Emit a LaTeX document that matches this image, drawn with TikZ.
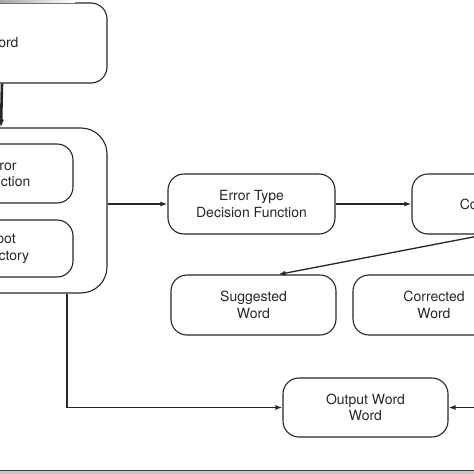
\documentclass[tikz,border=0pt]{standalone}
\usepackage{fontspec}
\setmainfont{TeX Gyre Heros}
\usetikzlibrary{arrows.meta,calc}
\definecolor{ink}{HTML}{262626}
\tikzset{
  box/.style={draw=ink, line width=1.1pt, rounded corners=16pt, inner sep=0pt,
    align=center, text=ink, font=\fontsize{14}{16.7}\selectfont},
  conn/.style={draw=ink, line width=1.3pt, -{Latex[length=7pt,width=5pt]}},
}
\begin{document}
\begin{tikzpicture}[x=1pt,y=-1pt]
\useasboundingbox (0,0) rectangle (474,474);
\begin{scope}
\clip (0,0) rectangle (474,474);
\node[box, minimum width=210pt, minimum height=80pt] (top) at (2,43) {Word};
\node[box, rounded corners=26pt, minimum width=212pt, minimum height=165pt] (cont) at (1,210.5) {};
\node[box, minimum width=144pt, minimum height=59pt] (det) at (1,173.5) {Error\\Detection};
\node[box, minimum width=144pt, minimum height=57pt] (root) at (1,248.5) {Root\\Directory};
\node[box, minimum width=167pt, minimum height=60pt] (err) at (251.5,204) {Error Type\\Decision Function};
\node[box, minimum width=160pt, minimum height=60pt] (cor) at (492,204) {Correction};
\node[box, minimum width=165pt, minimum height=60pt] (sug) at (253.5,305) {Suggested\\Word};
\node[box, minimum width=162pt, minimum height=60pt] (corr) at (434,305) {Corrected\\Word};
\node[box, minimum width=165pt, minimum height=59pt] (out) at (365.5,407.5) {Output Word\\Word};
\coordinate (rin) at (490,407.5);

\draw[conn, line width=2.6pt, -{Latex[length=8pt,width=6pt]}] (top.south) -- (cont.north);
\draw[conn] (err.west -| cont.east) -- (err.west);
\draw[conn] (err.east) -- (cor.west);
\draw[conn] ($(cor.south)+(-6,0)$) -- ($(sug.north)+(25,0)$);
\draw[conn] ($(cont.south)+(66,0)$) |- (out.west);
\draw[conn] (rin) -- (out.east);

\shade[left color=gray!70, right color=white] (0,0) rectangle (75,2);
\fill[gray!45] (0,471) rectangle (474,474);
\draw[line width=1.6pt, black!75] (0,470.5) -- (474,470.5);
\end{scope}
\end{tikzpicture}
\end{document}
